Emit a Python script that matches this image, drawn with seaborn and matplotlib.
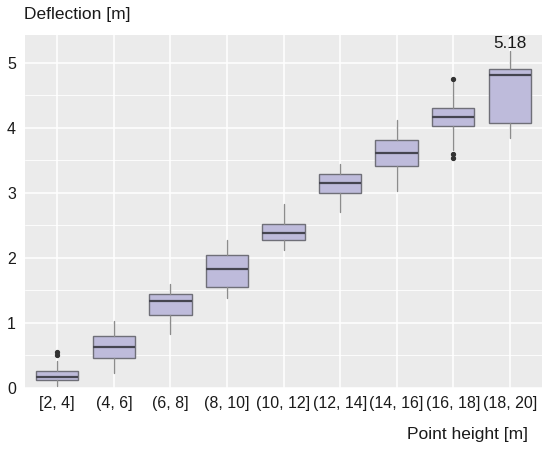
import matplotlib
matplotlib.use("Agg")
import matplotlib.pyplot as plt
import seaborn as sns
from matplotlib.ticker import MultipleLocator

# Summary values
bins = ["[2, 4]", "(4, 6]", "(6, 8]", "(8, 10]", "(10, 12]",
        "(12, 14]", "(14, 16]", "(16, 18]", "(18, 20]"]
whisker_low = [0.035, 0.226, 0.835, 1.39, 2.13, 2.71, 3.035, 3.66, 3.84]
q1 = [0.13, 0.457, 1.12, 1.56, 2.27, 2.995, 3.415, 4.03, 4.07]
median = [0.17, 0.635, 1.34, 1.825, 2.39, 3.15, 3.61, 4.165, 4.815]
q3 = [0.26, 0.805, 1.45, 2.05, 2.53, 3.29, 3.815, 4.30, 4.90]
whisker_high = [0.415, 1.03, 1.595, 2.28, 2.83, 3.45, 4.13, 4.70, 5.18]
outliers = [[0.50, 0.55], [], [], [], [], [], [], [3.54, 3.60, 4.76], []]
max_label = "5.18"

sns.set_theme(style="darkgrid", rc={
    "axes.facecolor": "#EBEBEB",
    "grid.color": "white",
    "xtick.major.size": 0,
    "ytick.major.size": 0,
    "ytick.minor.size": 0,
})
plt.rcParams["font.family"] = ["Liberation Sans", "DejaVu Sans"]

fig = plt.figure(figsize=(5.5, 4.51), dpi=100)
ax = fig.add_axes([0.0455, 0.1397, 0.94, 0.7827])

stats = []
for i, name in enumerate(bins):
    stats.append({
        "label": name, "whislo": whisker_low[i], "q1": q1[i], "med": median[i],
        "q3": q3[i], "whishi": whisker_high[i], "fliers": outliers[i],
    })

ax.bxp(stats, positions=range(len(bins)), widths=0.75, patch_artist=True,
       boxprops=dict(facecolor="#BEBBDB", edgecolor="#6F6F78", linewidth=1.0),
       medianprops=dict(color="#454550", linewidth=1.6),
       whiskerprops=dict(color="#8C8C8C", linewidth=1.0),
       capprops=dict(linewidth=0),
       flierprops=dict(marker="o", markersize=2.8, markerfacecolor="#333333",
                       markeredgecolor="#333333"),
       zorder=3)

ax.text(len(bins) - 1, whisker_high[-1], max_label, ha="center", va="bottom",
        fontsize=12.3, color="#1a1a1a")

ax.set_xlim(-0.57, len(bins) - 0.43)
ax.set_ylim(0, 5.43)
ax.yaxis.set_major_locator(MultipleLocator(1))
ax.yaxis.set_minor_locator(MultipleLocator(0.5))
ax.grid(which="major", color="white", linewidth=1.1)
ax.grid(which="minor", axis="y", color="white", linewidth=0.6)
ax.set_xticks(range(len(bins)))
ax.set_xticklabels(bins)
ax.tick_params(axis="x", labelsize=11.5, pad=6, colors="#1a1a1a")
ax.tick_params(axis="y", labelsize=11.5, pad=6.5, colors="#1a1a1a")
for s in ax.spines.values():
    s.set_visible(False)

ax.set_ylabel("Deflection [m]", rotation=0, ha="left", va="center",
              fontsize=12.5, color="#1a1a1a")
ax.yaxis.set_label_coords(-0.002, 1.057)
ax.set_xlabel("Point height [m]", ha="right", va="center",
              fontsize=12.5, color="#1a1a1a")
ax.xaxis.set_label_coords(0.973, -0.133)

fig.savefig("out.png", dpi=100)
